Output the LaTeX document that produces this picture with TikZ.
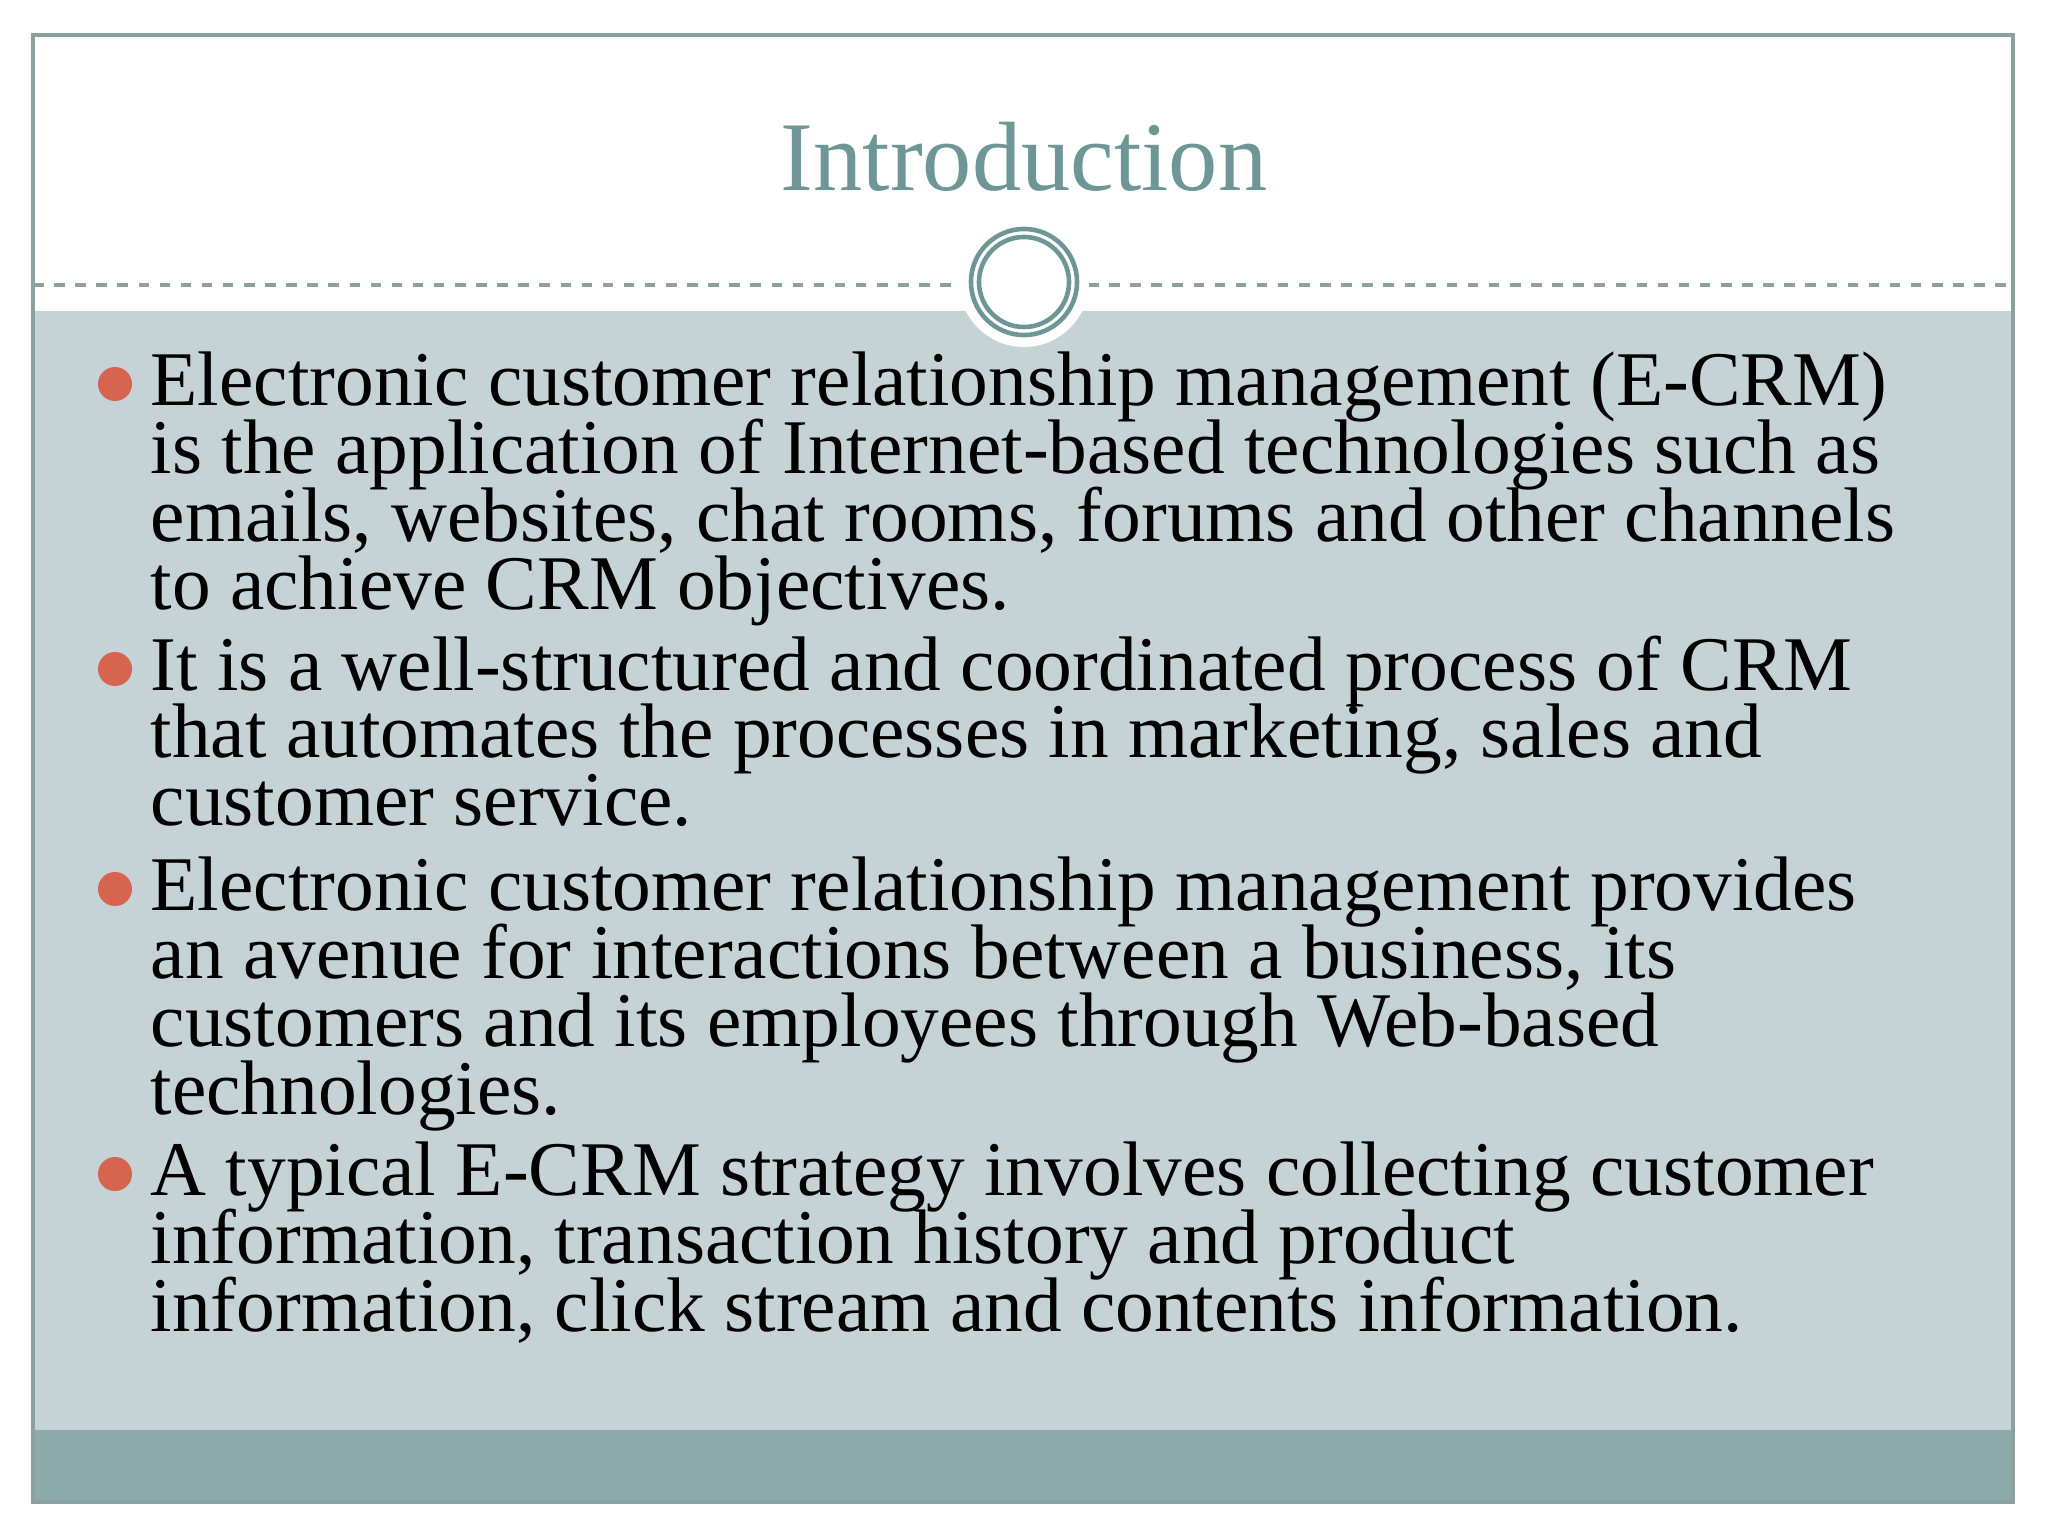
\documentclass[tikz,border=0pt]{standalone}
\usepackage{fontspec}
\setmainfont{Liberation Serif}
\definecolor{bodyg}{RGB}{197,210,214}
\definecolor{bandg}{RGB}{141,170,170}
\definecolor{titlec}{RGB}{110,150,150}
\definecolor{bul}{RGB}{214,100,78}
\definecolor{framec}{RGB}{140,160,160}
\begin{document}
\begin{tikzpicture}[x=0.01cm,y=-0.01cm,
  ln/.style={anchor=base west,inner sep=0,font=\fontsize{22}{23}\selectfont},
  bt/.style={circle,fill=bul,minimum size=0.34cm,inner sep=0}]
\useasboundingbox (0,0) rectangle (2048,1536);
\fill[white] (0,0) rectangle (2048,1536);
\fill[bodyg] (33,311) rectangle (2013,1430);
\fill[bandg] (33,1430) rectangle (2013,1502);
\draw[framec,line width=1.2] (33,35) rectangle (2013,1502);
\draw[framec,dashed,line width=1] (33,285) -- (2013,285);
\fill[white] (1024,282) circle (65);
\node[circle,draw=titlec,line width=1.3,minimum size=1.06cm,inner sep=0] (c) at (1024,282) {};
\node[circle,draw=titlec,line width=1.3,minimum size=0.90cm,inner sep=0] (c2) at (1024,282) {};
\node[font=\fontsize{28}{30}\selectfont,text=titlec] (t) at (1024,157) {Introduction};
\node[bt] (b1) at (115,384) {};
\node[bt] (b2) at (115,669) {};
\node[bt] (b3) at (115,889) {};
\node[bt] (b4) at (115,1174) {};
\node[ln] (l1) at (150,405) {Electronic customer relationship management (E-CRM)};
\node[ln] (l2) at (150,473) {is the application of Internet-based technologies such as};
\node[ln] (l3) at (150,541) {emails, websites, chat rooms, forums and other channels};
\node[ln] (l4) at (150,609) {to achieve CRM objectives.};
\node[ln] (l5) at (150,690) {It is a well-structured and coordinated process of CRM};
\node[ln] (l6) at (150,757) {that automates the processes in marketing, sales and};
\node[ln] (l7) at (150,825) {customer service.};
\node[ln] (l8) at (150,910) {Electronic customer relationship management provides};
\node[ln] (l9) at (150,978) {an avenue for interactions between a business, its};
\node[ln] (l10) at (150,1046) {customers and its employees through Web-based};
\node[ln] (l11) at (150,1114) {technologies.};
\node[ln] (l12) at (150,1195) {A typical E-CRM strategy involves collecting customer};
\node[ln] (l13) at (150,1263) {information, transaction history and product};
\node[ln] (l14) at (150,1331) {information, click stream and contents information.};
\end{tikzpicture}
\end{document}
